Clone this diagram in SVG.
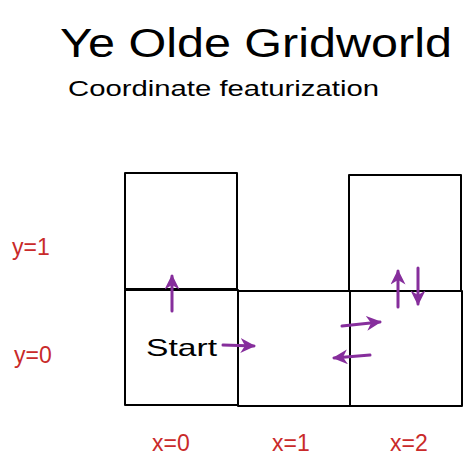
<svg xmlns="http://www.w3.org/2000/svg" width="474" height="474" viewBox="0 0 474 474">
<style>
.cell{fill:none;stroke:#000;stroke-width:2;stroke-linejoin:round}
.t{font-family:"Liberation Sans","DejaVu Sans",sans-serif;fill:#000}
.lab{font-family:"Liberation Sans","DejaVu Sans",sans-serif;fill:#c92a2a;font-size:23px}
.arr{stroke:#862e9c;stroke-width:3;fill:none;stroke-linecap:round;marker-end:url(#ah)}
</style>
<defs>
<marker id="ah" viewBox="0 0 10 10" refX="9" refY="5" markerWidth="5" markerHeight="5" orient="auto" markerUnits="strokeWidth">
<path d="M0,0 L10,5 L0,10 L3,5 Z" fill="#862e9c"/>
</marker>
</defs>
<rect width="474" height="474" fill="#fff"/>
<g id="title">
<text class="t" x="60" y="57" font-size="40" textLength="392" lengthAdjust="spacingAndGlyphs">Ye Olde Gridworld</text>
<text class="t" x="68" y="96" font-size="22" textLength="311" lengthAdjust="spacingAndGlyphs">Coordinate featurization</text>
</g>
<g id="cell-0-1"><rect class="cell" x="125" y="173" width="112" height="116"/></g>
<g id="cell-0-0"><rect class="cell" x="125" y="290" width="113" height="115"/>
<text class="t" x="146" y="356" font-size="24" textLength="71" lengthAdjust="spacingAndGlyphs">Start</text></g>
<g id="cell-1-0"><rect class="cell" x="238" y="291" width="112" height="115"/></g>
<g id="cell-2-1"><rect class="cell" x="349" y="175" width="112" height="116"/></g>
<g id="cell-2-0"><rect class="cell" x="350" y="291" width="112" height="115"/></g>
<g id="labels">
<text class="lab" x="12" y="255">y=1</text>
<text class="lab" x="14" y="363">y=0</text>
<text class="lab" x="152" y="451">x=0</text>
<text class="lab" x="272" y="451">x=1</text>
<text class="lab" x="390" y="451">x=2</text>
</g>
<g id="connectors">
<line class="arr" x1="172" y1="311" x2="172" y2="276"/>
<line class="arr" x1="223" y1="345" x2="254" y2="346"/>
<line class="arr" x1="342" y1="326" x2="380" y2="322"/>
<line class="arr" x1="370" y1="355" x2="334" y2="358"/>
<line class="arr" x1="398" y1="307" x2="398" y2="271"/>
<line class="arr" x1="418" y1="268" x2="418" y2="304"/>
</g>
</svg>
